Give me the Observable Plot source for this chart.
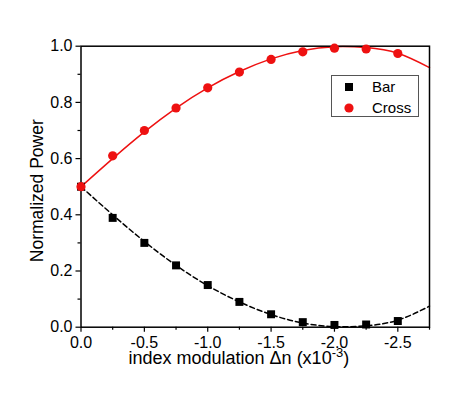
<!DOCTYPE html>
<html>
<head>
<meta charset="utf-8">
<script src="https://cdn.jsdelivr.net/npm/d3@7"></script>
<script src="https://cdn.jsdelivr.net/npm/@observablehq/plot@0.6"></script>
<style>
  html, body { margin: 0; padding: 0; background: white; }
  #wrap { position: relative; width: 474px; height: 398px; font-family: "Liberation Sans", Arial, sans-serif; }
  #legend { position: absolute; left: 331px; top: 75px; width: 88px; height: 42px; border: 1px solid #555; background: white; box-sizing: border-box; }
  #legend svg { display: block; }
</style>
</head>
<body>
<div id="wrap"></div>
<script>
// Measured points
const dn = [0, -0.25, -0.5, -0.75, -1.0, -1.25, -1.5, -1.75, -2.0, -2.25, -2.5];
const crossValues = [0.50, 0.61, 0.70, 0.78, 0.852, 0.908, 0.953, 0.980, 0.993, 0.990, 0.974];
const barValues = [0.50, 0.389, 0.30, 0.22, 0.15, 0.09, 0.046, 0.018, 0.008, 0.0096, 0.022];

// Fitted curves
const fitDn = [0, -0.25, -0.5, -0.75, -1.0, -1.25, -1.5, -1.75, -2.0, -2.25, -2.5, -2.75];
const crossFit = [0.50, 0.60, 0.695, 0.78, 0.852, 0.91, 0.955, 0.985, 0.998, 0.995, 0.975, 0.924];
const barFit = [0.50, 0.40, 0.305, 0.22, 0.148, 0.09, 0.045, 0.015, 0.002, 0.005, 0.025, 0.075];

const xMajor = [0, -0.5, -1.0, -1.5, -2.0, -2.5];
const xMinor = [-0.25, -0.75, -1.25, -1.75, -2.25, -2.75];
const yMajor = [0, 0.2, 0.4, 0.6, 0.8, 1.0];
const yMinor = [0.1, 0.3, 0.5, 0.7, 0.9];

const seriesNames = ["Bar", "Cross"];
const seriesColors = ["black", "#ee1111"];

const points = dn.flatMap((x, i) => [
  {x, y: barValues[i], s: "Bar"},
  {x, y: crossValues[i], s: "Cross"}
]);
const fits = fitDn.flatMap((x, i) => [
  {x, y: barFit[i], s: "Bar"},
  {x, y: crossFit[i], s: "Cross"}
]);

const chart = Plot.plot({
  width: 474,
  height: 398,
  marginLeft: 80.5,
  marginRight: 45,
  marginTop: 45.7,
  marginBottom: 71.3,
  style: { fontFamily: "'Liberation Sans', Arial, sans-serif", fontSize: "16px", color: "black", background: "white" },
  x: { domain: [0, -2.75] },
  y: { domain: [0, 1] },
  marks: [
    Plot.line(fits.filter(d => d.s === "Cross"), { x: "x", y: "y", stroke: seriesColors[1], strokeWidth: 1.5, curve: "natural" }),
    Plot.line(fits.filter(d => d.s === "Bar"), { x: "x", y: "y", stroke: seriesColors[0], strokeWidth: 1.5, strokeDasharray: "5,3", curve: "natural" }),
    Plot.axisX({ ticks: xMajor, tickSize: 5, tickPadding: 4.5, tickFormat: d => d.toFixed(1), label: null, strokeWidth: 1.2, fontSize: 16 }),
    Plot.axisX({ ticks: xMinor.filter(v => v >= -2.75), tickSize: 3, tickFormat: () => "", label: null, strokeWidth: 1.2 }),
    Plot.axisY({ ticks: yMajor, tickSize: 5, tickPadding: 3.5, tickFormat: d => d.toFixed(1), label: null, strokeWidth: 1.2, fontSize: 16 }),
    Plot.axisY({ ticks: yMinor, tickSize: 3, tickFormat: () => "", label: null, strokeWidth: 1.2 }),
    Plot.frame({ stroke: "black", strokeWidth: 1.5 }),
    Plot.dot(points.filter(d => d.s === "Bar"), { x: "x", y: "y", symbol: "square", r: 4.5, fill: seriesColors[0], stroke: "none" }),
    Plot.dot(points.filter(d => d.s === "Cross"), { x: "x", y: "y", symbol: "circle", r: 4.6, fill: seriesColors[1], stroke: "none" }),
    Plot.text(["Normalized Power"], { frameAnchor: "left", text: d => d, rotate: -90, textAnchor: "middle", lineAnchor: "middle", dx: -44, dy: 4, fontSize: 17.5 }),
    Plot.text(["index modulation Δn (x10"], { frameAnchor: "bottom-left", text: d => d, textAnchor: "start", lineAnchor: "middle", dx: 47.5, dy: 31, fontSize: 18, className: "xlab" })
  ]
});

// superscript in x label
d3.select(chart).selectAll(".xlab text").each(function() {
  const t = d3.select(this);
  const base = t.text();
  t.text(null);
  t.append("tspan").text(base);
  t.append("tspan").attr("dy", "-7").attr("font-size", 13).text("-3");
  t.append("tspan").attr("dy", "7").text(")");
});

const wrap = document.getElementById("wrap");
wrap.appendChild(chart);

// Legend
const legend = document.createElement("div");
legend.id = "legend";
wrap.appendChild(legend);
const lsvg = d3.select(legend).append("svg").attr("width", 86).attr("height", 40)
  .style("font-family", "'Liberation Sans', Arial, sans-serif").style("font-size", "15px");
seriesNames.forEach((name, i) => {
  const cy = 11 + i * 21;
  if (i === 0) {
    lsvg.append("rect").attr("x", 17 - 4).attr("y", cy - 4).attr("width", 8).attr("height", 8).attr("fill", seriesColors[i]);
  } else {
    lsvg.append("circle").attr("cx", 17).attr("cy", cy).attr("r", 4.6).attr("fill", seriesColors[i]);
  }
  lsvg.append("text").attr("x", 40).attr("y", cy).attr("dy", "0.36em").attr("fill", "black").text(name);
});
</script>
</body>
</html>
